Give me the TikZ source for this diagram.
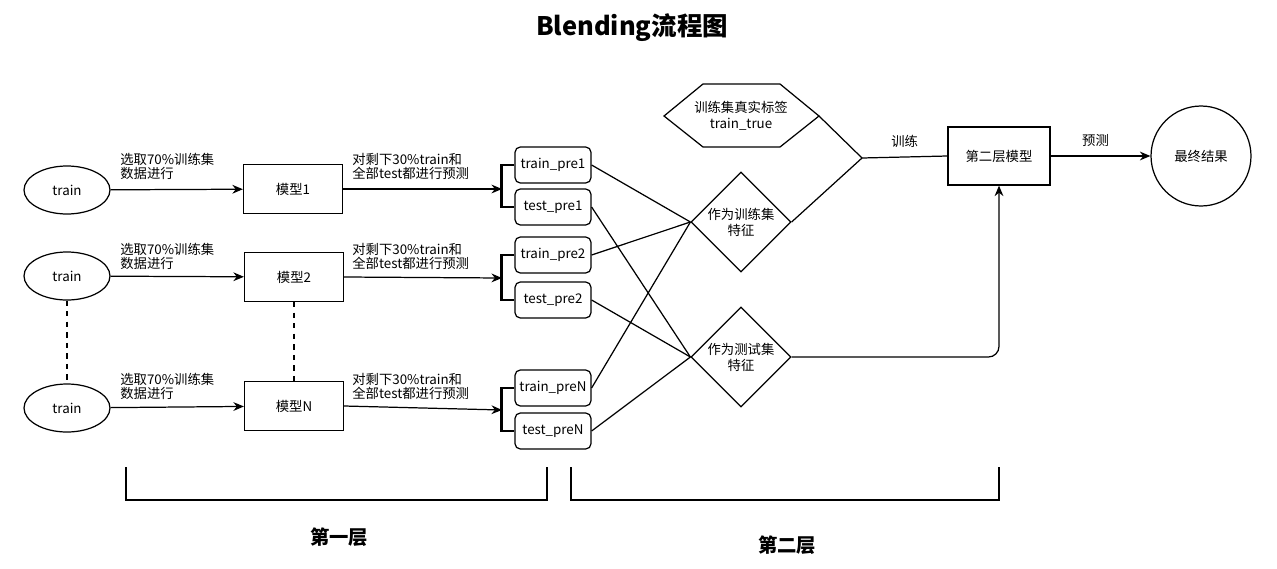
\documentclass[tikz,border=0pt]{standalone}
\usepackage{fontspec}
\setmainfont{Noto Sans CJK SC}
\usetikzlibrary{shapes.geometric,arrows.meta}
\begin{document}
\begin{tikzpicture}[x=0.02cm,y=-0.02cm,
  every node/.style={font=\fontsize{7.6}{9}\selectfont, inner sep=0pt},
  ln/.style={draw=black, line width=0.7pt},
  arr/.style={ln, -{Stealth[length=6pt,width=5pt]}},
  el/.style={ellipse, draw, line width=0.7pt, minimum width=86\pgflinewidth, minimum width=1.72cm, minimum height=0.96cm},
  box/.style={rectangle, draw, line width=0.7pt, minimum width=1.98cm, minimum height=0.98cm},
  pre/.style={rectangle, rounded corners=3pt, draw, line width=0.7pt, minimum width=1.52cm, minimum height=0.72cm},
  dia/.style={diamond, draw, line width=0.7pt, minimum width=2cm, minimum height=2cm, align=center},
  lbl/.style={align=left, anchor=west},
  brk/.style={draw, line width=1.6pt}
]
\useasboundingbox (0,0) rectangle (1277,568);
\node[font=\fontsize{14.5}{16}\selectfont\bfseries] (title) at (632,28) {Blending流程图};
% train ellipses
\node[el] (t1) at (67,190) {train};
\node[el] (t2) at (67,276) {train};
\node[el] (t3) at (67,408) {train};
% models
\node[box] (m1) at (293,189) {模型1};
\node[box] (m2) at (294,277) {模型2};
\node[box] (m3) at (294,406) {模型N};
\foreach \i/\y in {1/166,2/256,3/386}{
  \node[lbl] (la\i) at (120,\y) {选取70\%训练集\\[-1pt]数据进行};
  \node[lbl] (lb\i) at (352,\y) {对剩下30\%train和\\[-1pt]全部test都进行预测};
}
\draw[arr] (t1) -- (m1);
\draw[arr] (t2) -- (m2);
\draw[arr] (t3) -- (m3);
\draw[ln, dashed] (t2.south) -- (t3.north);
\draw[ln, dashed] (m2.south) -- (m3.north);
% pre boxes
\node[pre] (a1) at (553,165) {train\_pre1};
\node[pre] (b1) at (553,207) {test\_pre1};
\node[pre] (a2) at (553,255) {train\_pre2};
\node[pre] (b2) at (553,300) {test\_pre2};
\node[pre] (a3) at (553,388) {train\_preN};
\node[pre] (b3) at (553,431) {test\_preN};
% brackets
\coordinate (k1) at (502,189);
\coordinate (k2) at (502,278);
\coordinate (k3) at (502,410);
\draw[arr] (m1.east) -- (k1);
\draw[arr] (m2.east) -- (k2);
\draw[arr] (m3.east) -- (k3);
\draw[brk] (a1.west) -- ++(-13,0) |- (b1.west);
\draw[brk] (a2.west) -- ++(-13,0) |- (b2.west);
\draw[brk] (a3.west) -- ++(-13,0) |- (b3.west);
% diamonds & hexagon
\node[dia] (d1) at (741,222) {作为训练集\\特征};
\node[dia] (d2) at (741,357) {作为测试集\\特征};
\coordinate (h1) at (664,116); \coordinate (h2) at (703,84); \coordinate (h3) at (780,84);
\coordinate (h4) at (819,116); \coordinate (h5) at (780,147); \coordinate (h6) at (703,147);
\draw[ln] (h1) -- (h2) -- (h3) -- (h4) -- (h5) -- (h6) -- cycle;
\node[align=center] (hx) at (741,116) {训练集真实标签\\train\_true};
\draw[ln] (a1.east) -- (d1.west);
\draw[ln] (a2.east) -- (d1.west);
\draw[ln] (a3.east) -- (d1.west);
\draw[ln] (b1.east) -- (d2.west);
\draw[ln] (b2.east) -- (d2.west);
\draw[ln] (b3.east) -- (d2.west);
% second layer
\coordinate (j) at (862,158);
\node[box, minimum width=2.04cm, minimum height=1.16cm] (s) at (999,156) {第二层模型};
\node[circle, draw, line width=0.7pt, minimum size=2cm] (f) at (1201,156) {最终结果};
\draw[ln] (h4) -- (j);
\draw[ln] (d1.east) -- (j);
\draw[ln] (j) -- (s.west) node[pos=0.5, above=5pt] (lt) {训练};
\draw[arr] (s.east) -- (f.west) node[pos=0.45, above=5pt] (lp) {预测};
\draw[arr, rounded corners=6pt] (d2.east) -| (s.south);
% layer brackets
\draw[brk] (126,467) -- (126,500) -- (547,500) -- (547,467);
\draw[brk] (571,467) -- (571,500) -- (999,500) -- (999,467);
\node[font=\fontsize{11}{13}\selectfont\bfseries] (L1) at (339,537) {第一层};
\node[font=\fontsize{11}{13}\selectfont\bfseries] (L2) at (787,545) {第二层};
\end{tikzpicture}
\end{document}
